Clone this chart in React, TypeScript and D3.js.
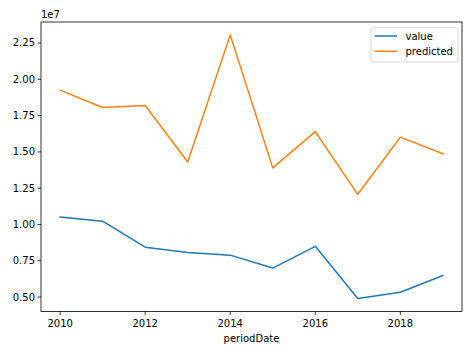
import React from "react";
import * as d3 from "d3";

const years = [2010, 2011, 2012, 2013, 2014, 2015, 2016, 2017, 2018, 2019];
const valueSeries = [1.051, 1.023, 0.844, 0.808, 0.789, 0.700, 0.850, 0.490, 0.534, 0.649];
const predictedSeries = [1.925, 1.806, 1.820, 1.430, 2.306, 1.390, 1.640, 1.208, 1.602, 1.487];
const yTicks = [0.5, 0.75, 1.0, 1.25, 1.5, 1.75, 2.0, 2.25];
const xTicks = [2010, 2012, 2014, 2016, 2018];
const seriesNames = ["value", "predicted"];
const colors = ["#1f77b4", "#ff7f0e"];

export default function App() {
  const W = 474, H = 355;
  const left = 41, right = 462, top = 22, bottom = 311.5;
  const x = d3.scaleLinear().domain([2009.55, 2019.45]).range([left, right]);
  const y = d3.scaleLinear().domain([0.401, 2.3946]).range([bottom, top]);
  const line = d3.line<number>().x((_, i) => x(years[i])).y((d) => y(d));
  const font = "DejaVu Sans, sans-serif";
  const fs = 10;
  const series = [valueSeries, predictedSeries];
  return (
    <svg width={W} height={H} style={{ position: "absolute", left: 0, top: 0 }} fontFamily={font}>
      <rect width={W} height={H} fill="#fff" />
      {series.map((s, k) => (
        <path key={k} d={line(s) || ""} fill="none" stroke={colors[k]} strokeWidth={1.5} strokeLinejoin="round" strokeLinecap="square" />
      ))}
      <rect x={left} y={top} width={right - left} height={bottom - top} fill="none" stroke="#000" strokeWidth={0.8} />
      {yTicks.map((t) => (
        <g key={t}>
          <line x1={left - 3.5} x2={left} y1={y(t)} y2={y(t)} stroke="#000" strokeWidth={0.8} />
          <text x={left - 6} y={y(t)} dy="0.35em" textAnchor="end" fontSize={fs} fill="#000">{t.toFixed(2)}</text>
        </g>
      ))}
      {xTicks.map((t) => (
        <g key={t}>
          <line x1={x(t)} x2={x(t)} y1={bottom} y2={bottom + 3.5} stroke="#000" strokeWidth={0.8} />
          <text x={x(t)} y={bottom + 15.5} textAnchor="middle" fontSize={fs} fill="#000">{t}</text>
        </g>
      ))}
      <text x={left} y={18} fontSize={fs} fill="#000">1e7</text>
      <text x={(left + right) / 2} y={342} textAnchor="middle" fontSize={fs} fill="#000">periodDate</text>
      <g>
        <rect x={371} y={27.7} width={87} height={34.3} rx={2} fill="#fff" fillOpacity={0.8} stroke="#ccc" strokeWidth={0.8} />
        {seriesNames.map((n, i) => (
          <g key={n}>
            <line x1={374.5} x2={397} y1={36 + i * 15.3} y2={36 + i * 15.3} stroke={colors[i]} strokeWidth={1.5} />
            <text x={405.5} y={36 + i * 15.3} dy="0.35em" fontSize={fs} fill="#000">{n}</text>
          </g>
        ))}
      </g>
    </svg>
  );
}
